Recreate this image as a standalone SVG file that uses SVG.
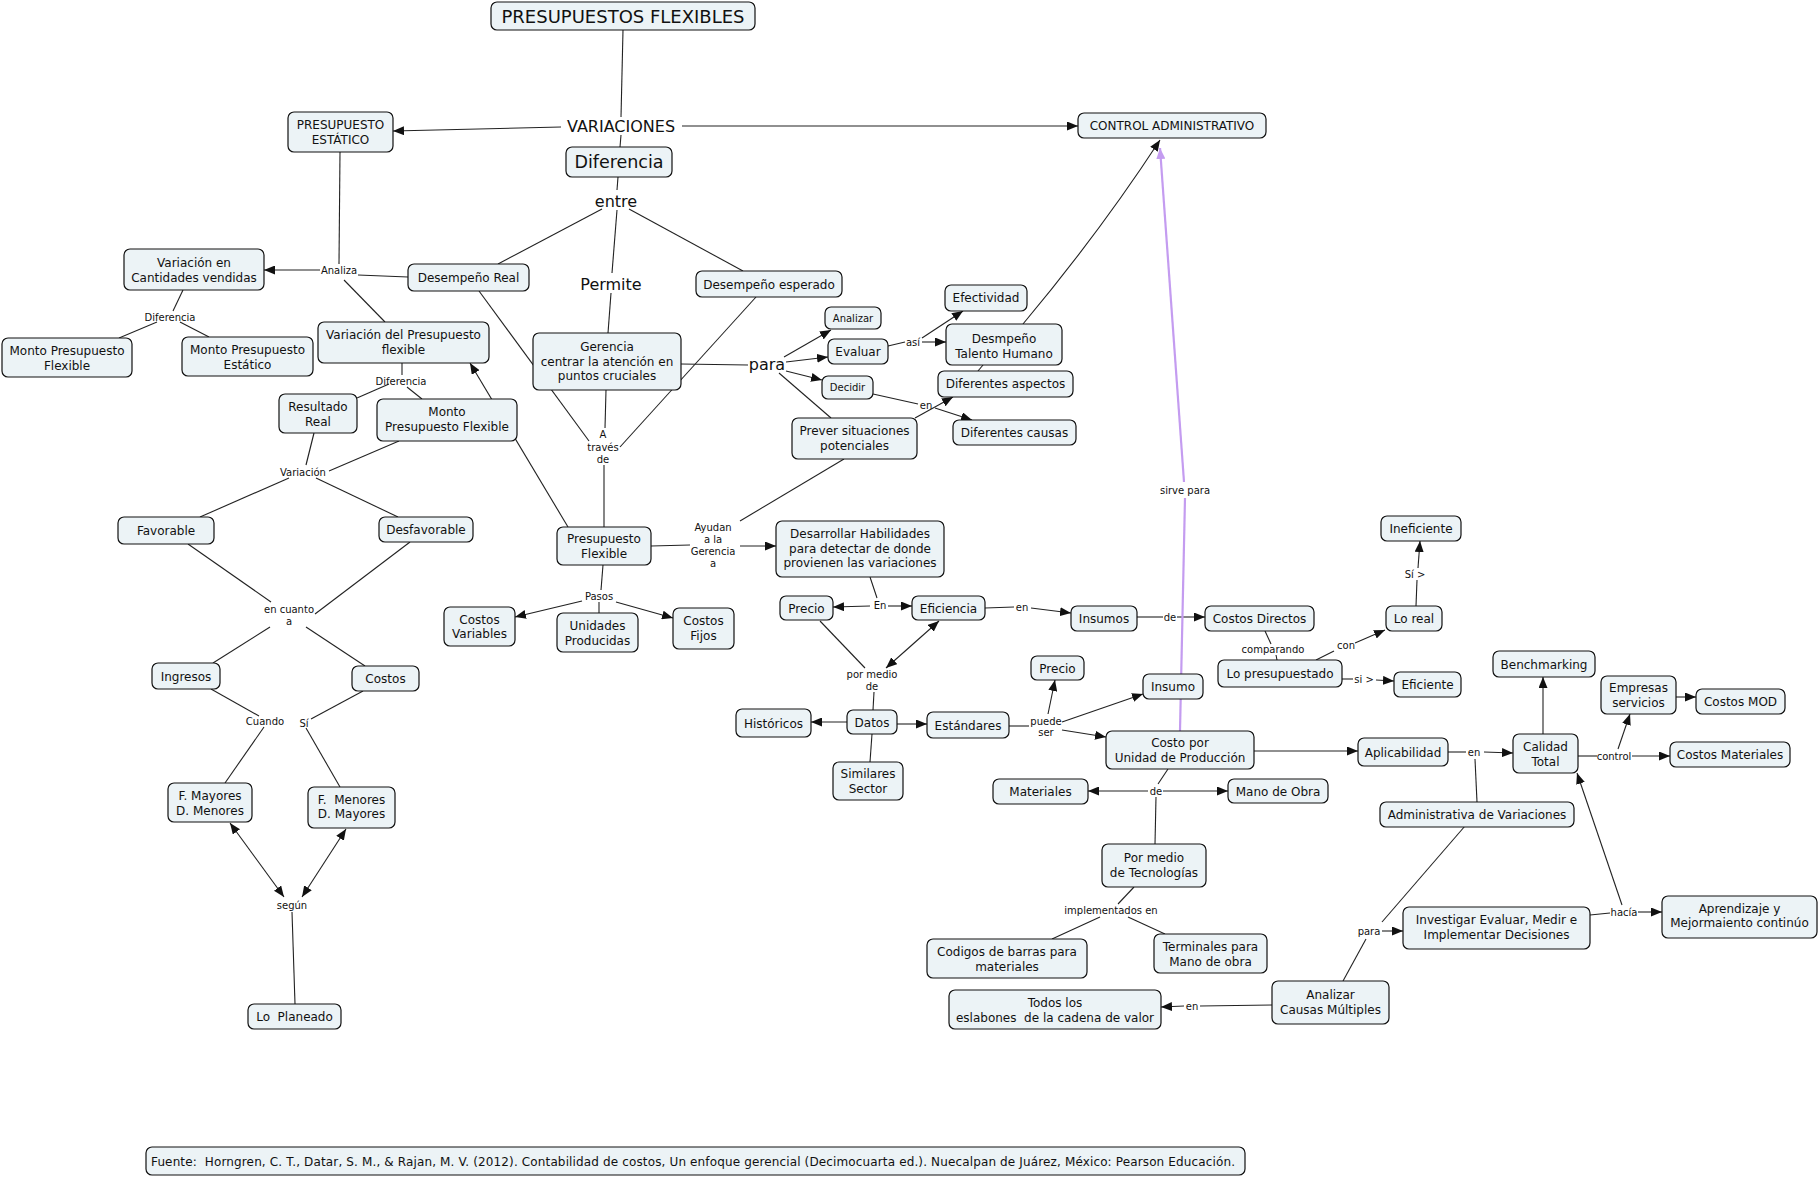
<svg xmlns="http://www.w3.org/2000/svg" width="1819" height="1177" viewBox="0 0 1819 1177">
<style>
.n rect{fill:#ecf3f6;stroke:#111;stroke-width:1.2}
text{font-family:"DejaVu Sans",Verdana,sans-serif;fill:#111;text-anchor:middle;white-space:pre}
.t{font-size:12px}
.s{font-size:10px}
.b{font-size:16px}
.c line,.c path{stroke:#222;stroke-width:1.1;fill:none}
.c .a{marker-end:url(#ar)}
.c .d{marker-start:url(#ar);marker-end:url(#ar)}
.c .p{stroke:#c49cf0;stroke-width:2.2}
</style>
<defs>
<marker id="ar" viewBox="0 0 11 9" refX="11" refY="4.5" markerWidth="11" markerHeight="9" orient="auto-start-reverse" markerUnits="userSpaceOnUse"><path d="M0,0 L11,4.5 L0,9 z" fill="#111"/></marker>
<marker id="pr" viewBox="0 0 11 9" refX="11" refY="4.5" markerWidth="11" markerHeight="9" orient="auto" markerUnits="userSpaceOnUse"><path d="M0,0 L11,4.5 L0,9 z" fill="#c49cf0"/></marker>
</defs>
<rect width="1819" height="1177" fill="#fff"/>
<g id="connectors" class="c">
<line x1="623" y1="30" x2="621" y2="117"/>
<line x1="621" y1="135" x2="620" y2="147"/>
<line class="a" x1="561" y1="127" x2="393" y2="131"/>
<line class="a" x1="682" y1="126" x2="1078" y2="126"/>
<line x1="618" y1="177" x2="617" y2="190"/>
<line x1="602" y1="209" x2="498" y2="264"/>
<line x1="629" y1="209" x2="743" y2="271"/>
<line x1="617" y1="210" x2="612" y2="273"/>
<line x1="611" y1="293" x2="608" y2="333"/>
<line x1="340" y1="152" x2="339" y2="264"/>
<line class="a" x1="320" y1="270" x2="264" y2="270"/>
<line x1="408" y1="277" x2="358" y2="275"/>
<line x1="344" y1="280" x2="385" y2="322"/>
<line x1="183" y1="290" x2="173" y2="311"/>
<line x1="157" y1="322" x2="119" y2="338"/>
<line x1="180" y1="322" x2="209" y2="337"/>
<line x1="402" y1="363" x2="402" y2="375"/>
<line x1="389" y1="384" x2="357" y2="398"/>
<line x1="407" y1="387" x2="422" y2="399"/>
<line class="a" x1="568" y1="527" x2="470" y2="363"/>
<line x1="314" y1="433" x2="306" y2="465"/>
<line x1="399" y1="441" x2="329" y2="471"/>
<line x1="289" y1="478" x2="200" y2="517"/>
<line x1="316" y1="478" x2="398" y2="517"/>
<line x1="188" y1="544" x2="271" y2="602"/>
<line x1="410" y1="542" x2="315" y2="614"/>
<line x1="270" y1="627" x2="213" y2="663"/>
<line x1="306" y1="627" x2="365" y2="666"/>
<line x1="211" y1="689" x2="259" y2="716"/>
<line x1="264" y1="727" x2="225" y2="783"/>
<line x1="363" y1="691" x2="311" y2="719"/>
<line x1="306" y1="728" x2="340" y2="787"/>
<line class="d" x1="230" y1="823" x2="284" y2="897"/>
<line class="d" x1="346" y1="829" x2="302" y2="897"/>
<line x1="292" y1="912" x2="295" y2="1004"/>
<line x1="479" y1="291" x2="589" y2="441"/>
<line x1="756" y1="297" x2="620" y2="447"/>
<line x1="606" y1="390" x2="605" y2="428"/>
<line x1="604" y1="465" x2="604" y2="527"/>
<line x1="681" y1="364" x2="748" y2="365"/>
<line class="a" x1="784" y1="357" x2="831" y2="330"/>
<line class="a" x1="786" y1="362" x2="828" y2="357"/>
<line class="a" x1="786" y1="371" x2="822" y2="380"/>
<line x1="779" y1="373" x2="831" y2="418"/>
<line x1="888" y1="346" x2="905" y2="342"/>
<line class="a" x1="922" y1="338" x2="963" y2="311"/>
<line class="a" x1="922" y1="342" x2="946" y2="342"/>
<path class="a" d="M1023,324 Q1100,232 1160,140"/>
<line x1="983" y1="365" x2="978" y2="371"/>
<line x1="873" y1="394" x2="918" y2="404"/>
<line class="a" x1="915" y1="418" x2="953" y2="397"/>
<line class="a" x1="935" y1="408" x2="972" y2="420"/>
<line x1="651" y1="546" x2="690" y2="545"/>
<line class="a" x1="740" y1="546" x2="776" y2="546"/>
<line x1="740" y1="521" x2="844" y2="459"/>
<line x1="603" y1="565" x2="601" y2="590"/>
<line class="a" x1="582" y1="601" x2="515" y2="617"/>
<line class="a" x1="616" y1="602" x2="673" y2="618"/>
<line x1="599" y1="602" x2="599" y2="613"/>
<line x1="870" y1="577" x2="877" y2="598"/>
<line class="a" x1="870" y1="606" x2="833" y2="607"/>
<line class="a" x1="888" y1="606" x2="912" y2="606"/>
<line x1="820" y1="621" x2="865" y2="668"/>
<line class="d" x1="939" y1="621" x2="886" y2="668"/>
<line x1="874" y1="692" x2="873" y2="710"/>
<line class="a" x1="847" y1="722" x2="811" y2="722"/>
<line class="a" x1="897" y1="724" x2="927" y2="724"/>
<line x1="872" y1="734" x2="870" y2="762"/>
<line x1="1009" y1="726" x2="1029" y2="726"/>
<line class="a" x1="1048" y1="714" x2="1055" y2="680"/>
<line class="a" x1="1062" y1="722" x2="1143" y2="694"/>
<line class="a" x1="1062" y1="730" x2="1106" y2="737"/>
<line x1="985" y1="608" x2="1014" y2="607"/>
<line class="a" x1="1031" y1="608" x2="1071" y2="613"/>
<line x1="1137" y1="617" x2="1163" y2="617"/>
<line class="a" x1="1177" y1="617" x2="1205" y2="617"/>
<line x1="1265" y1="631" x2="1271" y2="644"/>
<line x1="1276" y1="655" x2="1277" y2="660"/>
<line x1="1316" y1="660" x2="1334" y2="651"/>
<line class="a" x1="1355" y1="643" x2="1385" y2="630"/>
<line x1="1416" y1="606" x2="1417" y2="580"/>
<line class="a" x1="1418" y1="568" x2="1420" y2="541"/>
<line x1="1342" y1="679" x2="1353" y2="679"/>
<line class="a" x1="1376" y1="680" x2="1394" y2="681"/>
<line x1="1168" y1="769" x2="1158" y2="784"/>
<line class="a" x1="1148" y1="791" x2="1088" y2="791"/>
<line class="a" x1="1163" y1="791" x2="1228" y2="791"/>
<line x1="1156" y1="797" x2="1155" y2="844"/>
<line x1="1134" y1="887" x2="1118" y2="904"/>
<line x1="1100" y1="917" x2="1052" y2="939"/>
<line x1="1128" y1="917" x2="1165" y2="934"/>
<line class="a" x1="1254" y1="751" x2="1358" y2="751"/>
<line x1="1448" y1="752" x2="1466" y2="752"/>
<line class="a" x1="1484" y1="752" x2="1513" y2="753"/>
<line x1="1477" y1="802" x2="1475" y2="759"/>
<line class="a" x1="1543" y1="734" x2="1543" y2="677"/>
<line x1="1578" y1="756" x2="1597" y2="756"/>
<line class="a" x1="1632" y1="756" x2="1670" y2="756"/>
<line class="a" x1="1618" y1="749" x2="1630" y2="714"/>
<line class="a" x1="1676" y1="697" x2="1696" y2="697"/>
<line x1="1465" y1="826" x2="1382" y2="922"/>
<line x1="1366" y1="939" x2="1343" y2="981"/>
<line class="a" x1="1382" y1="931" x2="1403" y2="931"/>
<line x1="1590" y1="915" x2="1610" y2="913"/>
<line class="a" x1="1638" y1="912" x2="1662" y2="912"/>
<line class="a" x1="1622" y1="905" x2="1577" y2="773"/>
<line x1="1272" y1="1005" x2="1200" y2="1006"/>
<line class="a" x1="1184" y1="1006" x2="1161" y2="1007"/>
<line class="p" x1="1180" y1="731" x2="1185" y2="498"/>
<line class="p" x1="1184" y1="482" x2="1160" y2="148" marker-end="url(#pr)"/>
</g>
<g id="labels">
<text class="b" x="621" y="132">VARIACIONES</text>
<text class="b" x="616" y="207">entre</text>
<text class="b" x="611" y="290">Permite</text>
<text class="b" x="767" y="370">para</text>
<text class="s" x="339" y="273.5">Analiza</text>
<text class="s" x="170" y="320.5">Diferencia</text>
<text class="s" x="401" y="384.5">Diferencia</text>
<text class="s" x="303" y="475.5">Variación</text>
<text class="s" x="289" y="612.5">en cuanto</text>
<text class="s" x="289" y="624.5">a</text>
<text class="s" x="265" y="724.5">Cuando</text>
<text class="s" x="304" y="726.5">Sí</text>
<text class="s" x="292" y="908.5">según</text>
<text class="s" x="603" y="437.5">A</text>
<text class="s" x="603" y="450.5">través</text>
<text class="s" x="603" y="462.5">de</text>
<text class="s" x="713" y="530.5">Ayudan</text>
<text class="s" x="713" y="542.5">a la</text>
<text class="s" x="713" y="554.5">Gerencia</text>
<text class="s" x="713" y="566.5">a</text>
<text class="s" x="599" y="599.5">Pasos</text>
<text class="s" x="880" y="608.5">En</text>
<text class="s" x="872" y="677.5">por medio</text>
<text class="s" x="872" y="689.5">de</text>
<text class="s" x="1046" y="724.5">puede</text>
<text class="s" x="1046" y="735.5">ser</text>
<text class="s" x="913" y="345.5">así</text>
<text class="s" x="926" y="408.5">en</text>
<text class="s" x="1022" y="610.5">en</text>
<text class="s" x="1170" y="620.5">de</text>
<text class="s" x="1273" y="652.5">comparando</text>
<text class="s" x="1346" y="648.5">con</text>
<text class="s" x="1415" y="577.5">Sí &gt;</text>
<text class="s" x="1364" y="682.5">si &gt;</text>
<text class="s" x="1156" y="794.5">de</text>
<text class="s" x="1111" y="913.5">implementados en</text>
<text class="s" x="1474" y="755.5">en</text>
<text class="s" x="1614" y="759.5">control</text>
<text class="s" x="1369" y="934.5">para</text>
<text class="s" x="1624" y="915.5">hacía</text>
<text class="s" x="1192" y="1009.5">en</text>
<text class="s" x="1185" y="493.5">sirve para</text>
</g>
<g id="n1" class="n"><rect x="491" y="2" width="264" height="28" rx="6"/><text x="623" y="22.5" style="font-size:18px">PRESUPUESTOS FLEXIBLES</text></g>
<g id="n2" class="n"><rect x="1078" y="113" width="188" height="25" rx="6"/><text class="t" x="1172" y="130">CONTROL ADMINISTRATIVO</text></g>
<g id="n3" class="n"><rect x="288" y="112" width="105" height="40" rx="6"/><text class="t" x="340.5" y="129">PRESUPUESTO<tspan x="340.5" dy="15">ESTÁTICO</tspan></text></g>
<g id="n4" class="n"><rect x="566" y="147" width="106" height="30" rx="6"/><text x="619" y="168" style="font-size:17.5px">Diferencia</text></g>
<g id="n5" class="n"><rect x="124" y="249" width="140" height="41" rx="6"/><text class="t" x="194" y="267">Variación en<tspan x="194" dy="15">Cantidades vendidas</tspan></text></g>
<g id="n6" class="n"><rect x="408" y="264" width="121" height="27" rx="6"/><text class="t" x="468.5" y="282">Desempeño Real</text></g>
<g id="n7" class="n"><rect x="696" y="271" width="146" height="26" rx="6"/><text class="t" x="769" y="288.5">Desempeño esperado</text></g>
<g id="n8" class="n"><rect x="2" y="338" width="130" height="39" rx="6"/><text class="t" x="67" y="355">Monto Presupuesto<tspan x="67" dy="14.5">Flexible</tspan></text></g>
<g id="n9" class="n"><rect x="182" y="337" width="131" height="39" rx="6"/><text class="t" x="247.5" y="354">Monto Presupuesto<tspan x="247.5" dy="14.5">Estático</tspan></text></g>
<g id="n10" class="n"><rect x="318" y="322" width="171" height="41" rx="6"/><text class="t" x="403.5" y="339">Variación del Presupuesto<tspan x="403.5" dy="15">flexible</tspan></text></g>
<g id="n11" class="n"><rect x="533" y="333" width="148" height="57" rx="6"/><text class="t" x="607" y="351">Gerencia<tspan x="607" dy="14.5">centrar la atención en</tspan><tspan x="607" dy="14.5">puntos cruciales</tspan></text></g>
<g id="n12" class="n"><rect x="279" y="394" width="78" height="39" rx="6"/><text class="t" x="318" y="411">Resultado<tspan x="318" dy="15">Real</tspan></text></g>
<g id="n13" class="n"><rect x="377" y="399" width="140" height="42" rx="6"/><text class="t" x="447" y="416">Monto<tspan x="447" dy="14.5">Presupuesto Flexible</tspan></text></g>
<g id="n14" class="n"><rect x="825" y="307" width="56" height="22" rx="6"/><text class="s" x="853" y="321.5">Analizar</text></g>
<g id="n15" class="n"><rect x="828" y="339" width="60" height="25" rx="6"/><text class="t" x="858" y="356">Evaluar</text></g>
<g id="n16" class="n"><rect x="822" y="376" width="51" height="23" rx="6"/><text class="s" x="847.5" y="391">Decidir</text></g>
<g id="n17" class="n"><rect x="945" y="285" width="82" height="26" rx="6"/><text class="t" x="986" y="302">Efectividad</text></g>
<g id="n18" class="n"><rect x="946" y="324" width="116" height="41" rx="6"/><text class="t" x="1004" y="343">Desmpeño<tspan x="1004" dy="14.5">Talento Humano</tspan></text></g>
<g id="n19" class="n"><rect x="938" y="371" width="135" height="26" rx="6"/><text class="t" x="1005.5" y="388">Diferentes aspectos</text></g>
<g id="n20" class="n"><rect x="953" y="420" width="123" height="25" rx="6"/><text class="t" x="1014.5" y="437">Diferentes causas</text></g>
<g id="n21" class="n"><rect x="792" y="418" width="125" height="41" rx="6"/><text class="t" x="854.5" y="435">Prever situaciones<tspan x="854.5" dy="14.5">potenciales</tspan></text></g>
<g id="n22" class="n"><rect x="118" y="517" width="96" height="27" rx="6"/><text class="t" x="166" y="535">Favorable</text></g>
<g id="n23" class="n"><rect x="379" y="517" width="94" height="25" rx="6"/><text class="t" x="426" y="534">Desfavorable</text></g>
<g id="n24" class="n"><rect x="557" y="527" width="94" height="38" rx="6"/><text class="t" x="604" y="543">Presupuesto<tspan x="604" dy="14.5">Flexible</tspan></text></g>
<g id="n25" class="n"><rect x="776" y="521" width="168" height="56" rx="6"/><text class="t" x="860" y="538">Desarrollar Habilidades<tspan x="860" dy="14.5">para detectar de donde</tspan><tspan x="860" dy="14.5">provienen las variaciones</tspan></text></g>
<g id="n26" class="n"><rect x="444" y="607" width="71" height="39" rx="6"/><text class="t" x="479.5" y="623.5">Costos<tspan x="479.5" dy="14.5">Variables</tspan></text></g>
<g id="n27" class="n"><rect x="557" y="613" width="81" height="39" rx="6"/><text class="t" x="597.5" y="630">Unidades<tspan x="597.5" dy="14.5">Producidas</tspan></text></g>
<g id="n28" class="n"><rect x="673" y="608" width="61" height="41" rx="6"/><text class="t" x="703.5" y="625">Costos<tspan x="703.5" dy="14.5">Fijos</tspan></text></g>
<g id="n29" class="n"><rect x="780" y="596" width="53" height="24" rx="6"/><text class="t" x="806.5" y="612.5">Precio</text></g>
<g id="n30" class="n"><rect x="912" y="596" width="73" height="24" rx="6"/><text class="t" x="948.5" y="612.5">Eficiencia</text></g>
<g id="n31" class="n"><rect x="1071" y="606" width="66" height="25" rx="6"/><text class="t" x="1104" y="623">Insumos</text></g>
<g id="n32" class="n"><rect x="1205" y="606" width="109" height="25" rx="6"/><text class="t" x="1259.5" y="623">Costos Directos</text></g>
<g id="n33" class="n"><rect x="1386" y="606" width="56" height="25" rx="6"/><text class="t" x="1414" y="623">Lo real</text></g>
<g id="n34" class="n"><rect x="1381" y="516" width="80" height="25" rx="6"/><text class="t" x="1421" y="533">Ineficiente</text></g>
<g id="n35" class="n"><rect x="1218" y="660" width="124" height="27" rx="6"/><text class="t" x="1280" y="678">Lo presupuestado</text></g>
<g id="n36" class="n"><rect x="1394" y="672" width="67" height="25" rx="6"/><text class="t" x="1427.5" y="689">Eficiente</text></g>
<g id="n37" class="n"><rect x="152" y="663" width="68" height="26" rx="6"/><text class="t" x="186" y="680.5">Ingresos</text></g>
<g id="n38" class="n"><rect x="352" y="666" width="67" height="25" rx="6"/><text class="t" x="385.5" y="683">Costos</text></g>
<g id="n39" class="n"><rect x="1031" y="656" width="53" height="24" rx="6"/><text class="t" x="1057.5" y="672.5">Precio</text></g>
<g id="n40" class="n"><rect x="1143" y="674" width="60" height="25" rx="6"/><text class="t" x="1173" y="691">Insumo</text></g>
<g id="n41" class="n"><rect x="736" y="709" width="75" height="28" rx="6"/><text class="t" x="773.5" y="727.5">Históricos</text></g>
<g id="n42" class="n"><rect x="847" y="710" width="50" height="24" rx="6"/><text class="t" x="872" y="726.5">Datos</text></g>
<g id="n43" class="n"><rect x="927" y="712" width="82" height="26" rx="6"/><text class="t" x="968" y="729.5">Estándares</text></g>
<g id="n44" class="n"><rect x="833" y="762" width="70" height="38" rx="6"/><text class="t" x="868" y="777.5">Similares<tspan x="868" dy="15">Sector</tspan></text></g>
<g id="n45" class="n"><rect x="1106" y="731" width="148" height="38" rx="6"/><text class="t" x="1180" y="747">Costo por<tspan x="1180" dy="14.5">Unidad de Producción</tspan></text></g>
<g id="n46" class="n"><rect x="993" y="779" width="95" height="25" rx="6"/><text class="t" x="1040.5" y="796">Materiales</text></g>
<g id="n47" class="n"><rect x="1228" y="779" width="100" height="24" rx="6"/><text class="t" x="1278" y="795.5">Mano de Obra</text></g>
<g id="n48" class="n"><rect x="1358" y="738" width="90" height="28" rx="6"/><text class="t" x="1403" y="756.5">Aplicabilidad</text></g>
<g id="n49" class="n"><rect x="1513" y="734" width="65" height="39" rx="6"/><text class="t" x="1545.5" y="751">Calidad<tspan x="1545.5" dy="15">Total</tspan></text></g>
<g id="n50" class="n"><rect x="1493" y="651" width="102" height="26" rx="6"/><text class="t" x="1544" y="668.5">Benchmarking</text></g>
<g id="n51" class="n"><rect x="1601" y="676" width="75" height="38" rx="6"/><text class="t" x="1638.5" y="692">Empresas<tspan x="1638.5" dy="14.5">servicios</tspan></text></g>
<g id="n52" class="n"><rect x="1696" y="689" width="89" height="25" rx="6"/><text class="t" x="1740.5" y="706">Costos MOD</text></g>
<g id="n53" class="n"><rect x="1670" y="742" width="120" height="25" rx="6"/><text class="t" x="1730" y="759">Costos Materiales</text></g>
<g id="n54" class="n"><rect x="1380" y="802" width="194" height="25" rx="6"/><text class="t" x="1477" y="819">Administrativa de Variaciones</text></g>
<g id="n55" class="n"><rect x="168" y="783" width="84" height="39" rx="6"/><text class="t" x="210" y="800">F. Mayores<tspan x="210" dy="14.5">D. Menores</tspan></text></g>
<g id="n56" class="n"><rect x="308" y="787" width="87" height="41" rx="6"/><text class="t" x="351.5" y="803.5">F.  Menores<tspan x="351.5" dy="14.5">D. Mayores</tspan></text></g>
<g id="n57" class="n"><rect x="1102" y="844" width="104" height="43" rx="6"/><text class="t" x="1154" y="862">Por medio<tspan x="1154" dy="14.5">de Tecnologías</tspan></text></g>
<g id="n58" class="n"><rect x="1403" y="907" width="187" height="42" rx="6"/><text class="t" x="1496.5" y="924">Investigar Evaluar, Medir e<tspan x="1496.5" dy="14.5">Implementar Decisiones</tspan></text></g>
<g id="n59" class="n"><rect x="1662" y="896" width="155" height="42" rx="6"/><text class="t" x="1739.5" y="912.5">Aprendizaje y<tspan x="1739.5" dy="14.5">Mejormaiento continúo</tspan></text></g>
<g id="n60" class="n"><rect x="927" y="939" width="160" height="39" rx="6"/><text class="t" x="1007" y="956">Codigos de barras para<tspan x="1007" dy="14.5">materiales</tspan></text></g>
<g id="n61" class="n"><rect x="1154" y="934" width="113" height="39" rx="6"/><text class="t" x="1210.5" y="951">Terminales para<tspan x="1210.5" dy="14.5">Mano de obra</tspan></text></g>
<g id="n62" class="n"><rect x="949" y="990" width="212" height="39" rx="6"/><text class="t" x="1055" y="1007">Todos los<tspan x="1055" dy="14.5">eslabones  de la cadena de valor</tspan></text></g>
<g id="n63" class="n"><rect x="1272" y="981" width="117" height="43" rx="6"/><text class="t" x="1330.5" y="999">Analizar<tspan x="1330.5" dy="14.5">Causas Múltiples</tspan></text></g>
<g id="n64" class="n"><rect x="248" y="1004" width="93" height="25" rx="6"/><text class="t" x="294.5" y="1021">Lo  Planeado</text></g>
<g id="n65" class="n"><rect x="146" y="1147" width="1099" height="28" rx="6"/><text class="t" x="693" y="1165.5" textLength="1084" lengthAdjust="spacing">Fuente:  Horngren, C. T., Datar, S. M., &amp; Rajan, M. V. (2012). Contabilidad de costos, Un enfoque gerencial (Decimocuarta ed.). Nuecalpan de Juárez, México: Pearson Educación.</text></g>
</svg>
